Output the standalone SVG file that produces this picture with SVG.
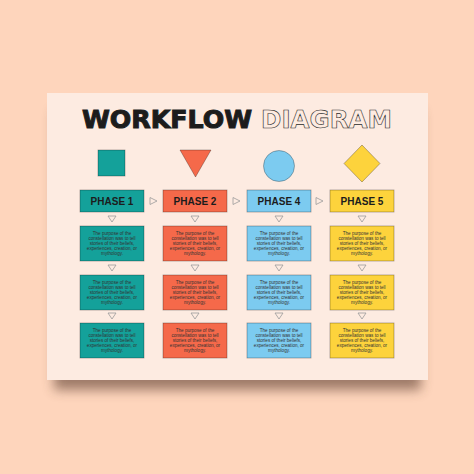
<svg xmlns="http://www.w3.org/2000/svg" width="474" height="474" viewBox="0 0 474 474">
<defs>
<style>
.box{stroke:#000;stroke-opacity:0.35;stroke-width:0.8}
.teal{fill:#14a19a}
.orange{fill:#f5694a}
.blue{fill:#7ccbf0}
.yellow{fill:#fdd33c}
.ph{font-family:"Liberation Sans",Arial,sans-serif;font-weight:bold;font-size:10px;fill:#1c1c1c;text-anchor:middle}
.ds{font-family:"Liberation Sans",Arial,sans-serif;font-size:4.6px;fill:#333;text-anchor:middle}
.arr{fill:none;stroke:#9a9a9a;stroke-width:0.8;stroke-linejoin:round}
</style>
<filter id="sh" x="-20%" y="-20%" width="140%" height="150%">
<feGaussianBlur stdDeviation="6"/>
</filter>
</defs>
<rect width="474" height="474" fill="#fed5bc"/>
<rect x="54" y="110" width="367" height="280" fill="#5e3f30" opacity="0.6" filter="url(#sh)"/>
<rect x="47" y="93" width="381" height="287" fill="#fdebe1"/>
<g id="title">
<text x="82" y="128" font-family="'DejaVu Sans','Liberation Sans',sans-serif" font-weight="900" font-size="24" fill="#1c1c1c" stroke="#1c1c1c" stroke-width="1" textLength="170" lengthAdjust="spacingAndGlyphs">WORKFLOW</text>
<text x="261" y="128" font-family="'DejaVu Sans','Liberation Sans',sans-serif" font-weight="bold" font-size="24" fill="#fdebe1" stroke="#2a2a2a" stroke-width="0.6" textLength="131" lengthAdjust="spacingAndGlyphs">DIAGRAM</text>
</g>
<g id="shapes">
<rect id="shape-square" class="teal box" x="98" y="150" width="27" height="26"/>
<polygon id="shape-triangle" class="orange box" points="180,150 211,150 195.5,177"/>
<circle id="shape-circle" class="blue box" cx="279" cy="166" r="15.5"/>
<polygon id="shape-diamond" class="yellow box" points="362,145 380,163.5 362,182 344,163.5"/>
</g>
<g id="connectors">
<polygon class="arr" points="150,197.5 157,201 150,204.5"/>
<polygon class="arr" points="233,197.5 240,201 233,204.5"/>
<polygon class="arr" points="316,197.5 323,201 316,204.5"/>
<g id="down-arrows">
<polygon class="arr" points="108,216 116,216 112,222"/>
<polygon class="arr" points="191,216 199,216 195,222"/>
<polygon class="arr" points="275,216 283,216 279,222"/>
<polygon class="arr" points="358,216 366,216 362,222"/>
<polygon class="arr" points="108,265 116,265 112,271"/>
<polygon class="arr" points="191,265 199,265 195,271"/>
<polygon class="arr" points="275,265 283,265 279,271"/>
<polygon class="arr" points="358,265 366,265 362,271"/>
<polygon class="arr" points="108,313 116,313 112,319"/>
<polygon class="arr" points="191,313 199,313 195,319"/>
<polygon class="arr" points="275,313 283,313 279,319"/>
<polygon class="arr" points="358,313 366,313 362,319"/>
</g>
</g>
<g id="phase1"><rect class="teal box" x="80" y="190" width="64" height="22"/><text class="ph" x="112" y="205">PHASE 1</text></g>
<g id="phase2"><rect class="orange box" x="163" y="190" width="64" height="22"/><text class="ph" x="195" y="205">PHASE 2</text></g>
<g id="phase4"><rect class="blue box" x="247" y="190" width="64" height="22"/><text class="ph" x="279" y="205">PHASE 4</text></g>
<g id="phase5"><rect class="yellow box" x="330" y="190" width="64" height="22"/><text class="ph" x="362" y="205">PHASE 5</text></g>
<defs>
<g id="desc">
<text class="ds" x="0" y="0">The purpose of the</text>
<text class="ds" x="0" y="5">constellation was to tell</text>
<text class="ds" x="0" y="10">stories of their beliefs,</text>
<text class="ds" x="0" y="15">experiences, creation, or</text>
<text class="ds" x="0" y="20">mythology.</text>
</g>
</defs>
<g id="p1-r1"><rect class="teal box" x="80" y="226" width="64" height="35"/><use href="#desc" x="112" y="235"/></g>
<g id="p2-r1"><rect class="orange box" x="163" y="226" width="64" height="35"/><use href="#desc" x="195" y="235"/></g>
<g id="p4-r1"><rect class="blue box" x="247" y="226" width="64" height="35"/><use href="#desc" x="279" y="235"/></g>
<g id="p5-r1"><rect class="yellow box" x="330" y="226" width="64" height="35"/><use href="#desc" x="362" y="235"/></g>
<g id="p1-r2"><rect class="teal box" x="80" y="275" width="64" height="35"/><use href="#desc" x="112" y="284"/></g>
<g id="p2-r2"><rect class="orange box" x="163" y="275" width="64" height="35"/><use href="#desc" x="195" y="284"/></g>
<g id="p4-r2"><rect class="blue box" x="247" y="275" width="64" height="35"/><use href="#desc" x="279" y="284"/></g>
<g id="p5-r2"><rect class="yellow box" x="330" y="275" width="64" height="35"/><use href="#desc" x="362" y="284"/></g>
<g id="p1-r3"><rect class="teal box" x="80" y="323" width="64" height="35"/><use href="#desc" x="112" y="332"/></g>
<g id="p2-r3"><rect class="orange box" x="163" y="323" width="64" height="35"/><use href="#desc" x="195" y="332"/></g>
<g id="p4-r3"><rect class="blue box" x="247" y="323" width="64" height="35"/><use href="#desc" x="279" y="332"/></g>
<g id="p5-r3"><rect class="yellow box" x="330" y="323" width="64" height="35"/><use href="#desc" x="362" y="332"/></g>
</svg>
